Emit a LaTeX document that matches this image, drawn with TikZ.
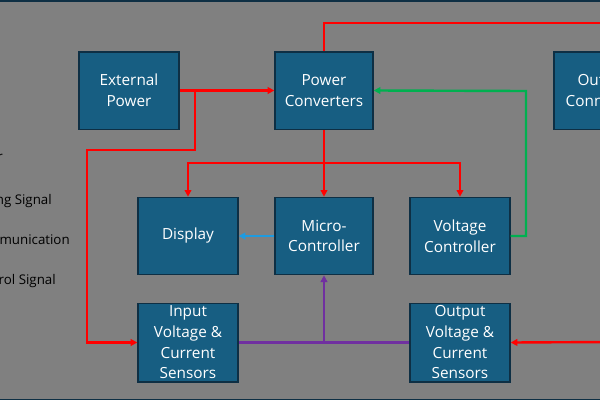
\documentclass[tikz,border=0pt]{standalone}
\usepackage{fontspec}
\setmainfont{Open Sans}
\usetikzlibrary{arrows.meta}
\definecolor{bg}{HTML}{808080}
\definecolor{boxf}{HTML}{175E82}
\definecolor{boxd}{HTML}{0E2F44}
\definecolor{pw}{HTML}{FF0000}
\definecolor{gr}{HTML}{00B050}
\definecolor{bl}{HTML}{1E9BE0}
\definecolor{pu}{HTML}{7030A0}
\begin{document}
\begin{tikzpicture}[x=0.75pt,y=-0.75pt,
  blk/.style={draw=boxd,line width=1pt,fill=boxf,text=white,align=center,inner sep=0pt,font=\fontsize{11.5}{15.5}\selectfont},
  con/.style={line width=1.8pt},
  arr/.style={con,-{Triangle[length=5pt,width=5pt]}},
  leg/.style={anchor=base east,inner sep=0pt,font=\fontsize{10}{12}\selectfont,text=black}]
\useasboundingbox (0,0) rectangle (600,400);
\clip (0,0) rectangle (600,400);
\fill[bg] (0,0) rectangle (600,400);
\draw[boxd,line width=1.5pt] (0,0.5) -- (600,0.5) (0,399.5) -- (600,399.5);
\node[blk,minimum width=75pt,minimum height=58pt] (ext) at (129,90.5) {External\\Power};
\node[blk,minimum width=73.5pt,minimum height=58pt] (pc) at (324,90.5) {Power\\Converters};
\node[blk,minimum width=73.5pt,minimum height=58pt] (oc) at (603,90.5) {Output\\Connector};
\node[blk,minimum width=75pt,minimum height=58pt] (disp) at (188,236) {Display};
\node[blk,minimum width=73.5pt,minimum height=58pt] (mc) at (324,236) {Micro-\\Controller};
\node[blk,minimum width=75pt,minimum height=58pt] (vc) at (460,236) {Voltage\\Controller};
\node[blk,minimum width=75pt,minimum height=59pt] (is) at (188,342.5) {Input\\Voltage \&\\Current\\Sensors};
\node[blk,minimum width=75pt,minimum height=59pt] (os) at (460,342.5) {Output\\Voltage \&\\Current\\Sensors};
\node[leg] (l1) at (3,161) {Power};
\node[leg] (l2) at (52,204) {Sensing Signal};
\node[leg] (l3) at (70,244) {Communication};
\node[leg] (l4) at (56,284) {Control Signal};
\coordinate (topR) at (610,23);
\coordinate (botR) at (610,342);
\draw[con,pw] (pc.north) |- (topR);
\draw[arr,pw] (ext.east) -- (pc.west);
\draw[arr,pw] (195,91) |- (87,150) |- (is.west);
\draw[arr,pw] (pc.south) -- (mc.north);
\draw[arr,pw] (324,163) -| (disp.north);
\draw[arr,pw] (324,163) -| (vc.north);
\draw[arr,pw] (botR) -- (os.east);
\draw[arr,gr] (vc.east) -| (526,91) -- (pc.east);
\draw[arr,bl] (mc.west) -- (disp.east);
\draw[con,pu] (is.east) -- (os.west);
\draw[arr,pu] (324,342) -- (mc.south);
\end{tikzpicture}
\end{document}
